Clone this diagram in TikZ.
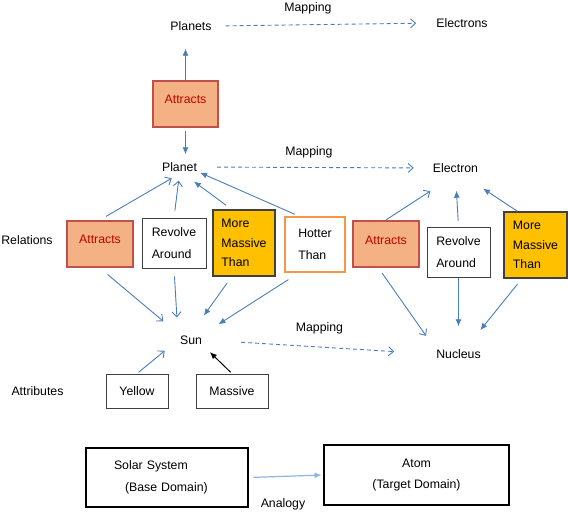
\documentclass[tikz,border=0pt]{standalone}
\usepackage{fontspec}
\setmainfont{Liberation Sans}
\usetikzlibrary{arrows.meta}

\definecolor{lnblue}{HTML}{4A7EBB}
\definecolor{anblue}{HTML}{8EB4E3}
\definecolor{attfill}{HTML}{F4B183}
\definecolor{attline}{HTML}{C0504D}
\definecolor{atttext}{HTML}{C00000}
\definecolor{mmtfill}{HTML}{FFC000}
\definecolor{hotline}{HTML}{F79646}
\definecolor{boxline}{HTML}{404040}

\begin{document}
\begin{tikzpicture}[x=1pt, y=-1pt,
    font=\fontsize{12.3}{14}\selectfont,
    txt/.style={inner sep=2pt},
    relbox/.style={draw=boxline, line width=0.8pt, align=left, inner sep=0pt,
      font=\fontsize{12.3}{22}\selectfont},
    attbox/.style={draw=attline, line width=2.2pt, fill=attfill, text=atttext,
      inner sep=0pt, minimum width=66pt, minimum height=46pt, text depth=10pt},
    mmtbox/.style={draw=boxline, line width=1.1pt, fill=mmtfill, align=left,
      inner sep=0pt, minimum width=62pt, minimum height=66pt,
      font=\fontsize{12.3}{19.5}\selectfont},
    hotbox/.style={draw=hotline, line width=2.2pt, align=left, inner sep=0pt,
      font=\fontsize{12.3}{22}\selectfont},
    dombox/.style={draw=black, line width=2.8pt, inner sep=0pt,
      font=\fontsize{12.3}{21.5}\selectfont},
    link/.style={draw=lnblue, line width=0.9pt, -{Latex[length=7pt,width=6pt]}},
    openlink/.style={draw=lnblue, line width=0.9pt,
      -{Straight Barb[length=5pt,width=9pt]}},
    maplink/.style={openlink, dash pattern=on 4pt off 3pt},
    blacklink/.style={draw=black, line width=1pt, -{Latex[length=7pt,width=6pt]}},
    anlink/.style={draw=anblue, line width=1.2pt, -{Latex[length=7pt,width=6pt]}}
  ]
  \useasboundingbox (0,0) rectangle (568,512);

  % top row
  \node[txt] (pl) at (191,26) {Planets};
  \node[txt] (es) at (462,23) {Electrons};
  \node[txt] (mp1) at (308,8) {Mapping};
  \node[attbox, minimum width=65pt] (a0) at (185.5,104) {Attracts};

  % middle
  \node[txt] (pt) at (179.5,167) {Planet};
  \node[txt] (el) at (455.5,168) {Electron};
  \node[txt] (mp2) at (309,152) {Mapping};

  \node[txt] (rel) at (27,240) {Relations};
  \node[attbox] (a1) at (100,244) {Attracts};
  \node[relbox, minimum width=64pt, minimum height=50pt] (r1) at (174,243) {Revolve\\Around};
  \node[mmtbox] (m1) at (244,243) {More\\Massive\\Than};
  \node[hotbox, minimum width=60pt, minimum height=55pt] (h1) at (315,244.5) {Hotter\\Than};
  \node[attbox, text depth=8pt] (a2) at (386,244) {Attracts};
  \node[relbox, minimum width=63pt, minimum height=50pt] (r2) at (458.5,252) {Revolve\\Around};
  \node[mmtbox, minimum width=63pt] (m2) at (535.5,245) {More\\Massive\\Than};

  \node[txt] (sun) at (191,340) {Sun};
  \node[txt] (nu) at (458.5,354) {Nucleus};
  \node[txt] (mp3) at (319.5,328) {Mapping};

  \node[txt] (attr) at (37.5,391) {Attributes};
  \node[relbox, minimum width=62pt, minimum height=34pt] (yl) at (137,391) {Yellow};
  \node[relbox, minimum width=72pt, minimum height=34pt] (ms) at (232,391) {Massive};

  % domains
  \node[dombox, align=left, text width=140pt, inner xsep=11pt, minimum height=59pt]
    (ss) at (167,477.5) {\hspace*{17pt}Solar System\\\hspace*{28pt}(Base Domain)};
  \node[dombox, align=center, minimum width=185pt, minimum height=60pt]
    (at) at (416.5,475) {Atom\\(Target Domain)};
  \node[txt] (an) at (283,504) {Analogy};

  % relations to planet
  \draw[link, shorten >=16pt] (a0.north) -- (a0.north |- pl.south);
  \draw[link, shorten <=3pt, shorten >=6pt] (a0.south) -- (a0.south |- pt.north);
  \draw[openlink, shorten <=7pt, shorten >=9pt] (a1.north) -- (pt.south);
  \draw[openlink, shorten <=7pt, shorten >=7pt] (r1.north) -- (pt.south);
  \draw[link, shorten <=7pt, shorten >=13pt] (m1.110) -- (pt.-60);
  \draw[link, shorten <=4pt, shorten >=1pt] (h1.120) -- (pt.-15);

  % relations to sun
  \draw[openlink, shorten <=10pt, shorten >=19pt] (a1.south) -- (sun.north west);
  \draw[openlink, shorten <=8pt, shorten >=16pt] (r1.south) -- (sun.north west);
  \draw[link, shorten <=8pt, shorten >=22pt] (m1.250) -- (sun.north);
  \draw[link, shorten <=12pt, shorten >=17pt] (h1.240) -- (sun.north east);
  \draw[openlink, shorten <=2pt, shorten >=17pt] (yl.north) -- (sun.west);
  \draw[blacklink, shorten <=2pt, shorten >=8pt] (ms.north) -- (sun.south east);

  % atom side
  \draw[openlink, shorten >=30pt] (a2.north) -- (el.south);
  \draw[link, shorten <=6pt, shorten >=16pt] (r2.north) -- (el.south);
  \draw[link, shorten >=25pt] (m2.118) -- (el.-45);
  \draw[openlink, shorten <=6pt, shorten >=14pt] (a2.253) -- (nu.north west);
  \draw[link, shorten <=1pt, shorten >=21pt] (r2.south) -- (nu.north);
  \draw[link, shorten <=7pt, shorten >=22pt] (m2.248) -- (nu.40);

  % mappings
  \draw[maplink, shorten <=12pt, shorten >=18pt] (pl.east) -- (es.west);
  \draw[maplink, shorten <=18pt, shorten >=17pt] (pt.east) -- (el.west);
  \draw[maplink, shorten <=37pt, shorten >=40pt] (sun.east) -- (nu.west);

  \draw[anlink, shorten <=4pt, shorten >=1pt] (ss.east) -- (at.west);
\end{tikzpicture}
\end{document}
